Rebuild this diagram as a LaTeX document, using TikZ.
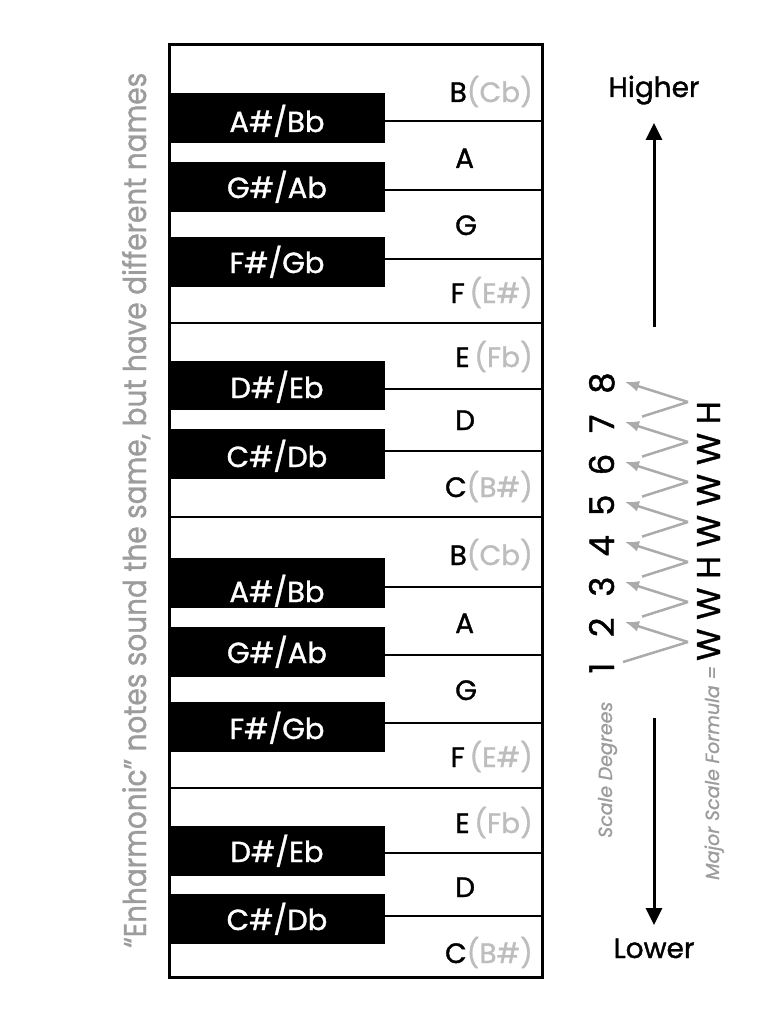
\documentclass[tikz,border=0pt]{standalone}
\usepackage{fontspec}
\usepackage{graphicx}
\setmainfont{Poppins}[FakeBold=1.2]
\usetikzlibrary{arrows.meta,calc}
\definecolor{partgray}{HTML}{BDBDBD}
\definecolor{notegray}{HTML}{9C9C9C}
\definecolor{ziggray}{HTML}{ABABAB}
\tikzset{
  blackkey/.style={fill=black, draw=none, minimum width=216pt, inner sep=0pt},
  blabel/.style={anchor=base, inner sep=0pt, text=white, font=\fontsize{29}{32}\selectfont},
  wlabel/.style={anchor=base west, inner sep=0pt, font=\fontsize{28}{32}\selectfont},
  wlabelr/.style={anchor=base east, inner sep=0pt, font=\fontsize{28}{32}\selectfont},
  deg/.style={rotate=90, anchor=base, inner sep=0pt, font=\fontsize{34}{36}\selectfont},
  side/.style={anchor=base, inner sep=0pt, font=\fontsize{28}{32}\selectfont},
  ital/.style={rotate=90, anchor=base west, inner sep=0pt, text=notegray, font=\fontsize{19}{22}\selectfont\itshape},
  zig/.style={draw=ziggray, line width=2.5pt},
  bigarrow/.style={line width=3pt, -{Triangle[length=17pt,width=16pt]}}
}
\begin{document}
\begin{tikzpicture}[x=1pt,y=-1pt]
\useasboundingbox (0,0) rectangle (768,1024);
% white keys
\draw[line width=3pt] (169,45) rectangle (542,977);
\foreach \yy in {323,517,788} \draw[line width=2.5pt] (169,\yy) -- (542,\yy);
\foreach \yy in {121,190,259,389,451,587,655,723,853,916} \draw[line width=2pt] (385,\yy) -- (542,\yy);
% black keys
\foreach \t/\b/\bl/\lab [count=\i] in {93/143/132/{A\#/Bb},162/212/198/{G\#/Ab},237/287/273/{F\#/Gb},361/410/398/{D\#/Eb},429/479/467/{C\#/Db},558/608/602/{A\#/Bb},627/677/663/{G\#/Ab},702/752/739/{F\#/Gb},826/876/862/{D\#/Eb},894/944/930/{C\#/Db}}{
  \node[blackkey, minimum height={(\b-\t)*1pt}] (bk\i) at (277,{(\t+\b)/2}) {};
  \node[blabel] (bl\i) at (277,\bl) {\lab};
}
% white key labels
\node[wlabelr] (w1) at (533,102) {B{\color{partgray}(Cb)}};
\node[wlabel] (w2) at (455,168) {A};
\node[wlabel] (w3) at (455,235) {G};
\node[wlabelr] (w4) at (533,303) {F\,{\color{partgray}(E\#)}};
\node[wlabelr] (w5) at (533,367) {E\,{\color{partgray}(Fb)}};
\node[wlabel] (w6) at (455,430) {D};
\node[wlabelr] (w7) at (533,497) {C{\color{partgray}(B\#)}};
\node[wlabelr] (w8) at (533,565) {B{\color{partgray}(Cb)}};
\node[wlabel] (w9) at (455,633) {A};
\node[wlabel] (w10) at (455,700) {G};
\node[wlabelr] (w11) at (533,767) {F\,{\color{partgray}(E\#)}};
\node[wlabelr] (w12) at (533,833) {E\,{\color{partgray}(Fb)}};
\node[wlabel] (w13) at (455,897) {D};
\node[wlabelr] (w14) at (533,963) {C{\color{partgray}(B\#)}};
% left caption
\node[rotate=90, anchor=base west, inner sep=0pt, text=notegray] (enh) at (146,948)
  {\resizebox{875pt}{24pt}{\fontsize{28}{32}\selectfont “Enharmonic” notes sound the same, but have different names}};
% higher / lower
\node[side] (higher) at (654,97) {Higher};
\node[side] (lower) at (654,958) {Lower};
\coordinate (upfrom) at (654,327);
\coordinate (upto) at (654,123);
\coordinate (downfrom) at (654,718);
\coordinate (downto) at (654,925);
\draw[bigarrow] (upfrom) -- (upto);
\draw[bigarrow] (downfrom) -- (downto);
% scale degrees
\foreach \k in {1,...,8}{
  \node[deg] (d\k) at (614,{668-(\k-1)*40.7}) {\k};
  \coordinate (z\k) at (625,{662-(\k-1)*40});
}
\foreach \k in {1,...,7}{
  \coordinate (v\k) at (688,{642-(\k-1)*40});
}
\node[ital] (sd) at (612,838) {Scale Degrees};
\node[ital] (msf) at (719,880) {Major Scale Formula =};
\node[rotate=90, anchor=base west, inner sep=0pt, font=\fontsize{33}{36}\selectfont] (formula) at (720,661) {W W H W W W H};
% zigzag
\draw[zig] (623,662) -- (v1);
\foreach \k [evaluate=\k as \n using int(\k+1)] in {1,...,7}{
  \draw[zig, -{Latex[length=14pt,width=11pt]}] (v\k) -- (z\n);
}
\foreach \k in {2,...,7}{
  \draw[zig] ($(z\k)!0.27!(v\k)$) -- (v\k);
}
\end{tikzpicture}
\end{document}
